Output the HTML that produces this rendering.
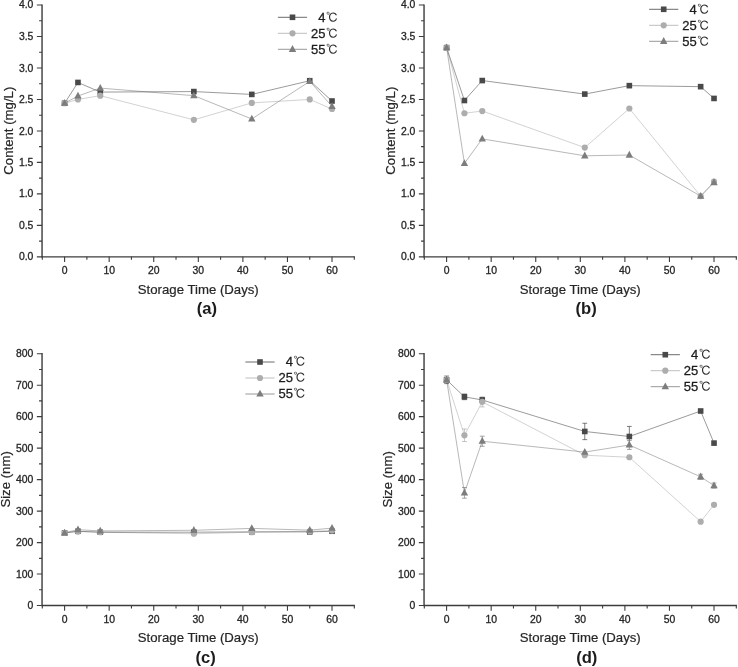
<!DOCTYPE html>
<html lang="en">
<head>
<meta charset="utf-8">
<title>Storage stability: content and size versus storage time</title>
<style>
html,body{margin:0;padding:0;background:#fff;}
body{width:738px;height:667px;overflow:hidden;}
svg{display:block;}
</style>
</head>
<body>
<svg width="738" height="667" viewBox="0 0 738 667">
<defs><filter id="soft" x="0" y="0" width="100%" height="100%" filterUnits="userSpaceOnUse"><feGaussianBlur stdDeviation="0.35"/></filter></defs>
<rect width="738" height="667" fill="#fff"/>
<g id="plots" filter="url(#soft)">
<g>
<path d="M42.05 4.4V257.45M41.45 256.85H354.9" stroke="#3c3c3c" stroke-width="1.4" fill="none"/>
<path d="M42.05 256.85h-5.2M42.05 241.11h-3M42.05 225.37h-5.2M42.05 209.63h-3M42.05 193.89h-5.2M42.05 178.15h-3M42.05 162.41h-5.2M42.05 146.67h-3M42.05 130.93h-5.2M42.05 115.18h-3M42.05 99.44h-5.2M42.05 83.7h-3M42.05 67.96h-5.2M42.05 52.22h-3M42.05 36.48h-5.2M42.05 20.74h-3M42.05 5h-5.2M42.31 256.85v3M64.6 256.85v5.2M86.88 256.85v3M109.17 256.85v5.2M131.45 256.85v3M153.74 256.85v5.2M176.02 256.85v3M198.31 256.85v5.2M220.59 256.85v3M242.88 256.85v5.2M265.16 256.85v3M287.45 256.85v5.2M309.74 256.85v3M332.02 256.85v5.2M354.3 256.85v3" stroke="#3c3c3c" stroke-width="1.1" fill="none"/>
<g font-family='"Liberation Sans", sans-serif' font-size="10.4" fill="#262626" stroke="#262626" stroke-width="0.3">
<g text-anchor="end">
<text x="33.4" y="260.45">0.0</text>
<text x="33.4" y="228.97">0.5</text>
<text x="33.4" y="197.49">1.0</text>
<text x="33.4" y="166.01">1.5</text>
<text x="33.4" y="134.53">2.0</text>
<text x="33.4" y="103.04">2.5</text>
<text x="33.4" y="71.56">3.0</text>
<text x="33.4" y="40.08">3.5</text>
<text x="33.4" y="8">4.0</text>
</g><g text-anchor="middle">
<text x="64.6" y="273.5">0</text>
<text x="109.17" y="273.5">10</text>
<text x="153.74" y="273.5">20</text>
<text x="198.31" y="273.5">30</text>
<text x="242.88" y="273.5">40</text>
<text x="287.45" y="273.5">50</text>
<text x="332.02" y="273.5">60</text>
</g></g>
<text x="198.3" y="293.8" text-anchor="middle" font-family='"Liberation Sans", sans-serif' font-size="13.2" fill="#262626" stroke="#262626" stroke-width="0.2">Storage Time (Days)</text>
<text transform="translate(12.9 130.7) rotate(-90)" text-anchor="middle" font-family='"Liberation Sans", sans-serif' font-size="13.2" fill="#262626" stroke="#262626" stroke-width="0.2">Content (mg/L)</text>
<text x="206.8" y="313.8" text-anchor="middle" font-family='"Liberation Sans", sans-serif' font-size="16.6" font-weight="bold" fill="#1c1c1c">(a)</text>
<polyline points="64.6,103.22 77.97,99.44 100.26,95.67 193.85,119.84 251.79,102.91 309.74,99.44 332.02,109.01" fill="none" stroke="#adadad" stroke-width="0.55"/>
<polyline points="64.6,103.22 77.97,95.98 100.26,88.11 193.85,95.67 251.79,118.96 309.74,81.37 332.02,106.37" fill="none" stroke="#7d7d7d" stroke-width="0.55"/>
<polyline points="64.6,103.22 77.97,82.44 100.26,92.08 193.85,91.57 251.79,94.41 309.74,80.74 332.02,101.02" fill="none" stroke="#484848" stroke-width="0.55"/>
<rect x="61.8" y="100.42" width="5.6" height="5.6" fill="#484848"/>
<rect x="75.17" y="79.64" width="5.6" height="5.6" fill="#484848"/>
<rect x="97.46" y="89.28" width="5.6" height="5.6" fill="#484848"/>
<rect x="191.05" y="88.77" width="5.6" height="5.6" fill="#484848"/>
<rect x="248.99" y="91.61" width="5.6" height="5.6" fill="#484848"/>
<rect x="306.94" y="77.94" width="5.6" height="5.6" fill="#484848"/>
<rect x="329.22" y="98.22" width="5.6" height="5.6" fill="#484848"/>
<circle cx="64.6" cy="103.22" r="3.1" fill="#adadad"/>
<circle cx="77.97" cy="99.44" r="3.1" fill="#adadad"/>
<circle cx="100.26" cy="95.67" r="3.1" fill="#adadad"/>
<circle cx="193.85" cy="119.84" r="3.1" fill="#adadad"/>
<circle cx="251.79" cy="102.91" r="3.1" fill="#adadad"/>
<circle cx="309.74" cy="99.44" r="3.1" fill="#adadad"/>
<circle cx="332.02" cy="109.01" r="3.1" fill="#adadad"/>
<polygon points="64.6,99.02 60.9,105.82 68.3,105.82" fill="#7d7d7d"/>
<polygon points="77.97,91.78 74.27,98.58 81.67,98.58" fill="#7d7d7d"/>
<polygon points="100.26,83.91 96.56,90.71 103.96,90.71" fill="#7d7d7d"/>
<polygon points="193.85,91.47 190.15,98.27 197.55,98.27" fill="#7d7d7d"/>
<polygon points="251.79,114.76 248.09,121.56 255.49,121.56" fill="#7d7d7d"/>
<polygon points="309.74,77.17 306.04,83.97 313.44,83.97" fill="#7d7d7d"/>
<polygon points="332.02,102.17 328.32,108.97 335.72,108.97" fill="#7d7d7d"/>
<path d="M277.9 17.3h29.2" stroke="#484848" stroke-width="0.8"/>
<rect x="289.7" y="14.5" width="5.6" height="5.6" fill="#484848"/>
<text x="325.5" y="21.5" text-anchor="end" font-family='"Liberation Sans", sans-serif' font-size="13" fill="#1c1c1c" stroke="#1c1c1c" stroke-width="0.3">4</text>
<text x="326.1" y="21.5" font-family='"Liberation Sans", "IPAGothic", sans-serif' font-size="12.4" fill="#2a2a2a">℃</text>
<path d="M277.9 33.3h29.2" stroke="#adadad" stroke-width="0.8"/>
<circle cx="292.5" cy="33.3" r="3.1" fill="#adadad"/>
<text x="325.5" y="37.5" text-anchor="end" font-family='"Liberation Sans", sans-serif' font-size="13" fill="#1c1c1c" stroke="#1c1c1c" stroke-width="0.3">25</text>
<text x="326.1" y="37.5" font-family='"Liberation Sans", "IPAGothic", sans-serif' font-size="12.4" fill="#2a2a2a">℃</text>
<path d="M277.9 49.3h29.2" stroke="#7d7d7d" stroke-width="0.8"/>
<polygon points="292.5,45.1 288.8,51.9 296.2,51.9" fill="#7d7d7d"/>
<text x="325.5" y="53.5" text-anchor="end" font-family='"Liberation Sans", sans-serif' font-size="13" fill="#1c1c1c" stroke="#1c1c1c" stroke-width="0.3">55</text>
<text x="326.1" y="53.5" font-family='"Liberation Sans", "IPAGothic", sans-serif' font-size="12.4" fill="#2a2a2a">℃</text>
</g>
<g>
<path d="M424.05 4.4V257.45M423.45 256.85H736.91" stroke="#3c3c3c" stroke-width="1.4" fill="none"/>
<path d="M424.05 256.85h-5.2M424.05 241.11h-3M424.05 225.37h-5.2M424.05 209.63h-3M424.05 193.89h-5.2M424.05 178.15h-3M424.05 162.41h-5.2M424.05 146.67h-3M424.05 130.93h-5.2M424.05 115.18h-3M424.05 99.44h-5.2M424.05 83.7h-3M424.05 67.96h-5.2M424.05 52.22h-3M424.05 36.48h-5.2M424.05 20.74h-3M424.05 5h-5.2M424.31 256.85v3M446.6 256.85v5.2M468.89 256.85v3M491.17 256.85v5.2M513.46 256.85v3M535.74 256.85v5.2M558.02 256.85v3M580.31 256.85v5.2M602.6 256.85v3M624.88 256.85v5.2M647.16 256.85v3M669.45 256.85v5.2M691.74 256.85v3M714.02 256.85v5.2M736.31 256.85v3" stroke="#3c3c3c" stroke-width="1.1" fill="none"/>
<g font-family='"Liberation Sans", sans-serif' font-size="10.4" fill="#262626" stroke="#262626" stroke-width="0.3">
<g text-anchor="end">
<text x="415.4" y="260.45">0.0</text>
<text x="415.4" y="228.97">0.5</text>
<text x="415.4" y="197.49">1.0</text>
<text x="415.4" y="166.01">1.5</text>
<text x="415.4" y="134.53">2.0</text>
<text x="415.4" y="103.04">2.5</text>
<text x="415.4" y="71.56">3.0</text>
<text x="415.4" y="40.08">3.5</text>
<text x="415.4" y="8">4.0</text>
</g><g text-anchor="middle">
<text x="446.6" y="273.5">0</text>
<text x="491.17" y="273.5">10</text>
<text x="535.74" y="273.5">20</text>
<text x="580.31" y="273.5">30</text>
<text x="624.88" y="273.5">40</text>
<text x="669.45" y="273.5">50</text>
<text x="714.02" y="273.5">60</text>
</g></g>
<text x="580.3" y="293.8" text-anchor="middle" font-family='"Liberation Sans", sans-serif' font-size="13.2" fill="#262626" stroke="#262626" stroke-width="0.2">Storage Time (Days)</text>
<text transform="translate(394.9 130.7) rotate(-90)" text-anchor="middle" font-family='"Liberation Sans", sans-serif' font-size="13.2" fill="#262626" stroke="#262626" stroke-width="0.2">Content (mg/L)</text>
<text x="586.2" y="313.8" text-anchor="middle" font-family='"Liberation Sans", sans-serif' font-size="16.6" font-weight="bold" fill="#1c1c1c">(b)</text>
<polyline points="446.6,47.63 464.43,113.23 482.26,111.03 584.77,147.61 629.34,108.51 700.65,196.09 714.02,181.67" fill="none" stroke="#adadad" stroke-width="0.55"/>
<polyline points="446.6,47.63 464.43,163.35 482.26,138.92 584.77,155.8 629.34,155.04 700.65,196.09 714.02,182.55" fill="none" stroke="#7d7d7d" stroke-width="0.55"/>
<polyline points="446.6,47.63 464.43,100.51 482.26,80.56 584.77,94.09 629.34,85.65 700.65,86.66 714.02,98.44" fill="none" stroke="#484848" stroke-width="0.55"/>
<rect x="443.8" y="44.83" width="5.6" height="5.6" fill="#484848"/>
<rect x="461.63" y="97.71" width="5.6" height="5.6" fill="#484848"/>
<rect x="479.46" y="77.76" width="5.6" height="5.6" fill="#484848"/>
<rect x="581.97" y="91.29" width="5.6" height="5.6" fill="#484848"/>
<rect x="626.54" y="82.85" width="5.6" height="5.6" fill="#484848"/>
<rect x="697.85" y="83.86" width="5.6" height="5.6" fill="#484848"/>
<rect x="711.22" y="95.64" width="5.6" height="5.6" fill="#484848"/>
<circle cx="446.6" cy="47.63" r="3.1" fill="#adadad"/>
<circle cx="464.43" cy="113.23" r="3.1" fill="#adadad"/>
<circle cx="482.26" cy="111.03" r="3.1" fill="#adadad"/>
<circle cx="584.77" cy="147.61" r="3.1" fill="#adadad"/>
<circle cx="629.34" cy="108.51" r="3.1" fill="#adadad"/>
<circle cx="700.65" cy="196.09" r="3.1" fill="#adadad"/>
<circle cx="714.02" cy="181.67" r="3.1" fill="#adadad"/>
<polygon points="446.6,43.43 442.9,50.23 450.3,50.23" fill="#7d7d7d"/>
<polygon points="464.43,159.15 460.73,165.95 468.13,165.95" fill="#7d7d7d"/>
<polygon points="482.26,134.72 478.56,141.52 485.96,141.52" fill="#7d7d7d"/>
<polygon points="584.77,151.6 581.07,158.4 588.47,158.4" fill="#7d7d7d"/>
<polygon points="629.34,150.84 625.64,157.64 633.04,157.64" fill="#7d7d7d"/>
<polygon points="700.65,191.89 696.95,198.69 704.35,198.69" fill="#7d7d7d"/>
<polygon points="714.02,178.35 710.32,185.15 717.72,185.15" fill="#7d7d7d"/>
<path d="M649.1 9.3h29.2" stroke="#484848" stroke-width="0.8"/>
<rect x="660.9" y="6.5" width="5.6" height="5.6" fill="#484848"/>
<text x="696.7" y="13.5" text-anchor="end" font-family='"Liberation Sans", sans-serif' font-size="13" fill="#1c1c1c" stroke="#1c1c1c" stroke-width="0.3">4</text>
<text x="697.3" y="13.5" font-family='"Liberation Sans", "IPAGothic", sans-serif' font-size="12.4" fill="#2a2a2a">℃</text>
<path d="M649.1 25.3h29.2" stroke="#adadad" stroke-width="0.8"/>
<circle cx="663.7" cy="25.3" r="3.1" fill="#adadad"/>
<text x="696.7" y="29.5" text-anchor="end" font-family='"Liberation Sans", sans-serif' font-size="13" fill="#1c1c1c" stroke="#1c1c1c" stroke-width="0.3">25</text>
<text x="697.3" y="29.5" font-family='"Liberation Sans", "IPAGothic", sans-serif' font-size="12.4" fill="#2a2a2a">℃</text>
<path d="M649.1 41.3h29.2" stroke="#7d7d7d" stroke-width="0.8"/>
<polygon points="663.7,37.1 660,43.9 667.4,43.9" fill="#7d7d7d"/>
<text x="696.7" y="45.5" text-anchor="end" font-family='"Liberation Sans", sans-serif' font-size="13" fill="#1c1c1c" stroke="#1c1c1c" stroke-width="0.3">55</text>
<text x="697.3" y="45.5" font-family='"Liberation Sans", "IPAGothic", sans-serif' font-size="12.4" fill="#2a2a2a">℃</text>
</g>
<g>
<path d="M42.05 353.1V606.15M41.45 605.55H354.9" stroke="#3c3c3c" stroke-width="1.4" fill="none"/>
<path d="M42.05 605.55h-5.2M42.05 589.81h-3M42.05 574.07h-5.2M42.05 558.33h-3M42.05 542.59h-5.2M42.05 526.85h-3M42.05 511.11h-5.2M42.05 495.37h-3M42.05 479.62h-5.2M42.05 463.88h-3M42.05 448.14h-5.2M42.05 432.4h-3M42.05 416.66h-5.2M42.05 400.92h-3M42.05 385.18h-5.2M42.05 369.44h-3M42.05 353.7h-5.2M42.31 605.55v3M64.6 605.55v5.2M86.88 605.55v3M109.17 605.55v5.2M131.45 605.55v3M153.74 605.55v5.2M176.02 605.55v3M198.31 605.55v5.2M220.59 605.55v3M242.88 605.55v5.2M265.16 605.55v3M287.45 605.55v5.2M309.74 605.55v3M332.02 605.55v5.2M354.3 605.55v3" stroke="#3c3c3c" stroke-width="1.1" fill="none"/>
<g font-family='"Liberation Sans", sans-serif' font-size="10.4" fill="#262626" stroke="#262626" stroke-width="0.3">
<g text-anchor="end">
<text x="33.4" y="609.15">0</text>
<text x="33.4" y="577.67">100</text>
<text x="33.4" y="546.19">200</text>
<text x="33.4" y="514.71">300</text>
<text x="33.4" y="483.22">400</text>
<text x="33.4" y="451.74">500</text>
<text x="33.4" y="420.26">600</text>
<text x="33.4" y="388.78">700</text>
<text x="33.4" y="357.3">800</text>
</g><g text-anchor="middle">
<text x="64.6" y="622.8">0</text>
<text x="109.17" y="622.8">10</text>
<text x="153.74" y="622.8">20</text>
<text x="198.31" y="622.8">30</text>
<text x="242.88" y="622.8">40</text>
<text x="287.45" y="622.8">50</text>
<text x="332.02" y="622.8">60</text>
</g></g>
<text x="198.3" y="642.2" text-anchor="middle" font-family='"Liberation Sans", sans-serif' font-size="13.2" fill="#262626" stroke="#262626" stroke-width="0.2">Storage Time (Days)</text>
<text transform="translate(9.7 479.4) rotate(-90)" text-anchor="middle" font-family='"Liberation Sans", sans-serif' font-size="13.2" fill="#262626" stroke="#262626" stroke-width="0.2">Size (nm)</text>
<text x="205.7" y="662.5" text-anchor="middle" font-family='"Liberation Sans", sans-serif' font-size="16.6" font-weight="bold" fill="#1c1c1c">(c)</text>
<polyline points="64.6,532.83 77.97,531.57 100.26,532.2 193.85,533.77 251.79,532.2 309.74,531.25 332.02,530.62" fill="none" stroke="#adadad" stroke-width="0.55"/>
<polyline points="64.6,532.83 77.97,529.68 100.26,530.94 193.85,530.31 251.79,528.42 309.74,530.15 332.02,528.11" fill="none" stroke="#7d7d7d" stroke-width="0.55"/>
<polyline points="64.6,532.83 77.97,531.25 100.26,532.2 193.85,532.2 251.79,531.88 309.74,531.88 332.02,531.25" fill="none" stroke="#484848" stroke-width="0.55"/>
<rect x="61.8" y="530.03" width="5.6" height="5.6" fill="#484848"/>
<rect x="75.17" y="528.45" width="5.6" height="5.6" fill="#484848"/>
<rect x="97.46" y="529.4" width="5.6" height="5.6" fill="#484848"/>
<rect x="191.05" y="529.4" width="5.6" height="5.6" fill="#484848"/>
<rect x="248.99" y="529.08" width="5.6" height="5.6" fill="#484848"/>
<rect x="306.94" y="529.08" width="5.6" height="5.6" fill="#484848"/>
<rect x="329.22" y="528.45" width="5.6" height="5.6" fill="#484848"/>
<circle cx="64.6" cy="532.83" r="3.1" fill="#adadad"/>
<circle cx="77.97" cy="531.57" r="3.1" fill="#adadad"/>
<circle cx="100.26" cy="532.2" r="3.1" fill="#adadad"/>
<circle cx="193.85" cy="533.77" r="3.1" fill="#adadad"/>
<circle cx="251.79" cy="532.2" r="3.1" fill="#adadad"/>
<circle cx="309.74" cy="531.25" r="3.1" fill="#adadad"/>
<circle cx="332.02" cy="530.62" r="3.1" fill="#adadad"/>
<polygon points="64.6,528.63 60.9,535.43 68.3,535.43" fill="#7d7d7d"/>
<polygon points="77.97,525.48 74.27,532.28 81.67,532.28" fill="#7d7d7d"/>
<polygon points="100.26,526.74 96.56,533.54 103.96,533.54" fill="#7d7d7d"/>
<polygon points="193.85,526.11 190.15,532.91 197.55,532.91" fill="#7d7d7d"/>
<polygon points="251.79,524.22 248.09,531.02 255.49,531.02" fill="#7d7d7d"/>
<polygon points="309.74,525.95 306.04,532.75 313.44,532.75" fill="#7d7d7d"/>
<polygon points="332.02,523.91 328.32,530.71 335.72,530.71" fill="#7d7d7d"/>
<path d="M245.4 362h29.2" stroke="#484848" stroke-width="0.8"/>
<rect x="257.2" y="359.2" width="5.6" height="5.6" fill="#484848"/>
<text x="293" y="366.2" text-anchor="end" font-family='"Liberation Sans", sans-serif' font-size="13" fill="#1c1c1c" stroke="#1c1c1c" stroke-width="0.3">4</text>
<text x="293.6" y="366.2" font-family='"Liberation Sans", "IPAGothic", sans-serif' font-size="12.4" fill="#2a2a2a">℃</text>
<path d="M245.4 378h29.2" stroke="#adadad" stroke-width="0.8"/>
<circle cx="260" cy="378" r="3.1" fill="#adadad"/>
<text x="293" y="382.2" text-anchor="end" font-family='"Liberation Sans", sans-serif' font-size="13" fill="#1c1c1c" stroke="#1c1c1c" stroke-width="0.3">25</text>
<text x="293.6" y="382.2" font-family='"Liberation Sans", "IPAGothic", sans-serif' font-size="12.4" fill="#2a2a2a">℃</text>
<path d="M245.4 394h29.2" stroke="#7d7d7d" stroke-width="0.8"/>
<polygon points="260,389.8 256.3,396.6 263.7,396.6" fill="#7d7d7d"/>
<text x="293" y="398.2" text-anchor="end" font-family='"Liberation Sans", sans-serif' font-size="13" fill="#1c1c1c" stroke="#1c1c1c" stroke-width="0.3">55</text>
<text x="293.6" y="398.2" font-family='"Liberation Sans", "IPAGothic", sans-serif' font-size="12.4" fill="#2a2a2a">℃</text>
</g>
<g>
<path d="M424.05 353.1V606.15M423.45 605.55H736.91" stroke="#3c3c3c" stroke-width="1.4" fill="none"/>
<path d="M424.05 605.55h-5.2M424.05 589.81h-3M424.05 574.07h-5.2M424.05 558.33h-3M424.05 542.59h-5.2M424.05 526.85h-3M424.05 511.11h-5.2M424.05 495.37h-3M424.05 479.62h-5.2M424.05 463.88h-3M424.05 448.14h-5.2M424.05 432.4h-3M424.05 416.66h-5.2M424.05 400.92h-3M424.05 385.18h-5.2M424.05 369.44h-3M424.05 353.7h-5.2M424.31 605.55v3M446.6 605.55v5.2M468.89 605.55v3M491.17 605.55v5.2M513.46 605.55v3M535.74 605.55v5.2M558.02 605.55v3M580.31 605.55v5.2M602.6 605.55v3M624.88 605.55v5.2M647.16 605.55v3M669.45 605.55v5.2M691.74 605.55v3M714.02 605.55v5.2M736.31 605.55v3" stroke="#3c3c3c" stroke-width="1.1" fill="none"/>
<g font-family='"Liberation Sans", sans-serif' font-size="10.4" fill="#262626" stroke="#262626" stroke-width="0.3">
<g text-anchor="end">
<text x="415.4" y="609.15">0</text>
<text x="415.4" y="577.67">100</text>
<text x="415.4" y="546.19">200</text>
<text x="415.4" y="514.71">300</text>
<text x="415.4" y="483.22">400</text>
<text x="415.4" y="451.74">500</text>
<text x="415.4" y="420.26">600</text>
<text x="415.4" y="388.78">700</text>
<text x="415.4" y="357.3">800</text>
</g><g text-anchor="middle">
<text x="446.6" y="622.8">0</text>
<text x="491.17" y="622.8">10</text>
<text x="535.74" y="622.8">20</text>
<text x="580.31" y="622.8">30</text>
<text x="624.88" y="622.8">40</text>
<text x="669.45" y="622.8">50</text>
<text x="714.02" y="622.8">60</text>
</g></g>
<text x="580.3" y="642.2" text-anchor="middle" font-family='"Liberation Sans", sans-serif' font-size="13.2" fill="#262626" stroke="#262626" stroke-width="0.2">Storage Time (Days)</text>
<text transform="translate(391.8 479.4) rotate(-90)" text-anchor="middle" font-family='"Liberation Sans", sans-serif' font-size="13.2" fill="#262626" stroke="#262626" stroke-width="0.2">Size (nm)</text>
<text x="586.8" y="662.5" text-anchor="middle" font-family='"Liberation Sans", sans-serif' font-size="16.6" font-weight="bold" fill="#1c1c1c">(d)</text>
<polyline points="446.6,379.83 464.43,435.24 482.26,401.87 584.77,455.2 629.34,457.27 700.65,521.65 714.02,504.81" fill="none" stroke="#adadad" stroke-width="0.55"/>
<polyline points="446.6,379.83 464.43,492.85 482.26,441.22 584.77,452.08 629.34,445 700.65,476.79 714.02,485.61" fill="none" stroke="#7d7d7d" stroke-width="0.55"/>
<polyline points="446.6,379.83 464.43,396.83 482.26,399.98 584.77,431.46 629.34,436.5 700.65,411 714.02,443.11" fill="none" stroke="#484848" stroke-width="0.55"/>
<path d="M446.6 376.05V383.61M444.2 376.05h4.8M444.2 383.61h4.8M464.43 394V399.66M462.03 394h4.8M462.03 399.66h4.8M482.26 397.46V402.5M479.86 397.46h4.8M479.86 402.5h4.8M584.77 423.27V439.64M582.37 423.27h4.8M582.37 439.64h4.8M629.34 426.42V446.57M626.94 426.42h4.8M626.94 446.57h4.8" stroke="#484848" stroke-width="0.7" fill="none"/>
<path d="M464.43 428.94V441.53M462.03 428.94h4.8M462.03 441.53h4.8M482.26 396.83V406.9M479.86 396.83h4.8M479.86 406.9h4.8" stroke="#adadad" stroke-width="0.7" fill="none"/>
<path d="M464.43 487.5V498.2M462.03 487.5h4.8M462.03 498.2h4.8M482.26 436.18V446.25M479.86 436.18h4.8M479.86 446.25h4.8M629.34 440.59V449.4M626.94 440.59h4.8M626.94 449.4h4.8M700.65 474.27V479.31M698.25 474.27h4.8M698.25 479.31h4.8M714.02 483.09V488.12M711.62 483.09h4.8M711.62 488.12h4.8" stroke="#7d7d7d" stroke-width="0.7" fill="none"/>
<rect x="443.8" y="377.03" width="5.6" height="5.6" fill="#484848"/>
<rect x="461.63" y="394.03" width="5.6" height="5.6" fill="#484848"/>
<rect x="479.46" y="397.18" width="5.6" height="5.6" fill="#484848"/>
<rect x="581.97" y="428.66" width="5.6" height="5.6" fill="#484848"/>
<rect x="626.54" y="433.7" width="5.6" height="5.6" fill="#484848"/>
<rect x="697.85" y="408.2" width="5.6" height="5.6" fill="#484848"/>
<rect x="711.22" y="440.31" width="5.6" height="5.6" fill="#484848"/>
<circle cx="446.6" cy="379.83" r="3.1" fill="#adadad"/>
<circle cx="464.43" cy="435.24" r="3.1" fill="#adadad"/>
<circle cx="482.26" cy="401.87" r="3.1" fill="#adadad"/>
<circle cx="584.77" cy="455.2" r="3.1" fill="#adadad"/>
<circle cx="629.34" cy="457.27" r="3.1" fill="#adadad"/>
<circle cx="700.65" cy="521.65" r="3.1" fill="#adadad"/>
<circle cx="714.02" cy="504.81" r="3.1" fill="#adadad"/>
<polygon points="446.6,375.63 442.9,382.43 450.3,382.43" fill="#7d7d7d"/>
<polygon points="464.43,488.65 460.73,495.45 468.13,495.45" fill="#7d7d7d"/>
<polygon points="482.26,437.02 478.56,443.82 485.96,443.82" fill="#7d7d7d"/>
<polygon points="584.77,447.88 581.07,454.68 588.47,454.68" fill="#7d7d7d"/>
<polygon points="629.34,440.8 625.64,447.6 633.04,447.6" fill="#7d7d7d"/>
<polygon points="700.65,472.59 696.95,479.39 704.35,479.39" fill="#7d7d7d"/>
<polygon points="714.02,481.41 710.32,488.21 717.72,488.21" fill="#7d7d7d"/>
<path d="M650.7 354.7h29.2" stroke="#484848" stroke-width="0.8"/>
<rect x="662.5" y="351.9" width="5.6" height="5.6" fill="#484848"/>
<text x="698.3" y="358.9" text-anchor="end" font-family='"Liberation Sans", sans-serif' font-size="13" fill="#1c1c1c" stroke="#1c1c1c" stroke-width="0.3">4</text>
<text x="698.9" y="358.9" font-family='"Liberation Sans", "IPAGothic", sans-serif' font-size="12.4" fill="#2a2a2a">℃</text>
<path d="M650.7 370.7h29.2" stroke="#adadad" stroke-width="0.8"/>
<circle cx="665.3" cy="370.7" r="3.1" fill="#adadad"/>
<text x="698.3" y="374.9" text-anchor="end" font-family='"Liberation Sans", sans-serif' font-size="13" fill="#1c1c1c" stroke="#1c1c1c" stroke-width="0.3">25</text>
<text x="698.9" y="374.9" font-family='"Liberation Sans", "IPAGothic", sans-serif' font-size="12.4" fill="#2a2a2a">℃</text>
<path d="M650.7 386.7h29.2" stroke="#7d7d7d" stroke-width="0.8"/>
<polygon points="665.3,382.5 661.6,389.3 669,389.3" fill="#7d7d7d"/>
<text x="698.3" y="390.9" text-anchor="end" font-family='"Liberation Sans", sans-serif' font-size="13" fill="#1c1c1c" stroke="#1c1c1c" stroke-width="0.3">55</text>
<text x="698.9" y="390.9" font-family='"Liberation Sans", "IPAGothic", sans-serif' font-size="12.4" fill="#2a2a2a">℃</text>
</g>
</g>
</svg>
</body>
</html>
